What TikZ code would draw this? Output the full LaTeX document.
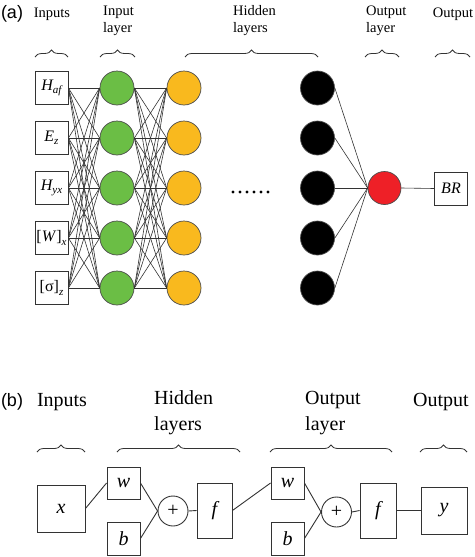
\documentclass[tikz,border=0pt]{standalone}
\usepackage{fontspec}
\setmainfont{Liberation Serif}
\newfontfamily\labfont{Liberation Sans}
\usetikzlibrary{decorations.pathreplacing}
\definecolor{cgreen}{HTML}{6BBE45}
\definecolor{corange}{HTML}{F9B91E}
\definecolor{cred}{HTML}{EE2027}
\definecolor{cline}{HTML}{333333}
\newcommand\lsub[1]{\raisebox{-0.45ex}{\fontsize{11}{11}\selectfont\itshape #1}}
\begin{document}
\begin{tikzpicture}[x=1pt,y=-1pt,
  sa/.style={font=\fontsize{14.5}{17}\selectfont, inner sep=0pt},
  sb/.style={font=\fontsize{20}{26}\selectfont, inner sep=0pt},
  panel/.style={font=\labfont\fontsize{18}{20}\selectfont, inner sep=0pt},
  inbox/.style={draw=cline, line width=0.8pt, minimum width=33pt, minimum height=33pt, inner sep=0pt, font=\fontsize{16}{18}\selectfont},
  neuron/.style={circle, draw=black!70, line width=0.7pt, minimum size=34pt, inner sep=0pt},
  conn/.style={draw=cline, line width=0.6pt},
  bconn/.style={draw=cline, line width=0.9pt},
  bbox/.style={draw=cline, line width=0.9pt, inner sep=0pt, font=\fontsize{20}{22}\selectfont\itshape},
  brace/.style={draw=cline, line width=0.8pt, decorate, decoration={brace, amplitude=7pt}},
  dot/.style={circle, fill=black, inner sep=0pt, minimum size=3.2pt}
]
\useasboundingbox (0,0) rectangle (474,557);

% ---------- panel (a) ----------
\node[panel] (pa) at (12,14) {(a)};
\node[sa] (tin) at (52,14) {Inputs};
\node[sa, align=left, anchor=west] (til) at (103,21) {Input\\layer};
\node[sa, align=left, anchor=west] (thl) at (233,21) {Hidden\\layers};
\node[sa, align=left, anchor=west] (tol) at (366,21) {Output\\layer};
\node[sa] (tout) at (453,14) {Output};

\draw[brace] (35,57) -- (68,57);
\draw[brace] (100,57) -- (135,57);
\draw[brace] (185,57) -- (318,57);
\draw[brace] (365,57) -- (399,57);
\draw[brace] (435,57) -- (470,57);

\node[inbox] (in1) at (51.5,88) {\itshape H\lsub{af}};
\node[inbox] (in2) at (51.5,138) {\itshape E\lsub{z}};
\node[inbox] (in3) at (51.5,188) {\itshape H\lsub{yx}};
\node[inbox] (in4) at (51.5,238) {[\textit{W}]\lsub{x}};
\node[inbox] (in5) at (51.5,288) {[σ]\lsub{z}};

\foreach \i in {1,...,5}{
  \pgfmathsetmacro\yy{38+50*\i}
  \node[neuron, fill=cgreen] (g\i) at (117,\yy) {};
  \node[neuron, fill=corange] (o\i) at (184,\yy) {};
  \node[neuron, fill=black] (k\i) at (317.5,\yy) {};
}
\node[neuron, fill=cred, minimum size=33pt] (r) at (384.5,188) {};
\node[inbox, font=\fontsize{16}{18}\selectfont\itshape] (br) at (451,188.5) {BR};

\foreach \i in {1,...,5}{
  \foreach \j in {1,...,5}{
    \draw[conn] (in\i.east) -- (g\j.west);
    \draw[conn] (g\i.east) -- (o\j.west);
  }
  \draw[conn] (k\i.east) -- (r.west);
}
\draw[conn] (r.east) -- (br.west);

\foreach \k in {0,...,5}{
  \node[dot] (d\k) at (233+7*\k,192) {};
}

% ---------- panel (b) ----------
\node[panel] (pb) at (12,402) {(b)};
\node[sb] (tbin) at (62,402) {Inputs};
\node[sb, align=left, anchor=west] (tbhl) at (154,413) {Hidden\\layers};
\node[sb, align=left, anchor=west] (tbol) at (305,413) {Output\\layer};
\node[sb] (tbout) at (441,402) {Output};

\draw[brace] (37,452) -- (85,452);
\draw[brace] (117,452) -- (240,452);
\draw[brace] (270,452) -- (392,452);
\draw[brace] (420,452) -- (467,452);

\node[bbox, minimum width=48pt, minimum height=47pt] (x) at (61,508.5) {x};
\node[bbox, minimum width=33pt, minimum height=32pt] (w1) at (123.5,483) {w};
\node[bbox, minimum width=33pt, minimum height=33pt] (b1) at (123.5,538.5) {b};
\node[circle, draw=cline, line width=0.9pt, minimum size=30pt, inner sep=0pt, font=\fontsize{20}{22}\selectfont] (p1) at (173,511) {+};
\node[bbox, minimum width=35pt, minimum height=55pt] (f1) at (214.5,510.5) {f};

\node[bbox, minimum width=33pt, minimum height=32pt] (w2) at (287.5,483) {w};
\node[bbox, minimum width=33pt, minimum height=33pt] (b2) at (287.5,538.5) {b};
\node[circle, draw=cline, line width=0.9pt, minimum size=30pt, inner sep=0pt, font=\fontsize{20}{22}\selectfont] (p2) at (336.5,512) {+};
\node[bbox, minimum width=36pt, minimum height=55pt] (f2) at (378,510.5) {f};
\node[bbox, minimum width=46pt, minimum height=47pt] (y) at (444,510.5) {y};

\draw[bconn] (x.east) -- (w1.west);
\draw[bconn] (w1.east) -- (p1.west);
\draw[bconn] (b1.east) -- (p1.west);
\draw[bconn] (p1.east) -- (f1.west);
\draw[bconn] (f1.east) -- (w2.west);
\draw[bconn] (w2.east) -- (p2.west);
\draw[bconn] (b2.east) -- (p2.west);
\draw[bconn] (p2.east) -- (f2.west);
\draw[bconn] (f2.east) -- (y.west);
\end{tikzpicture}
\end{document}
